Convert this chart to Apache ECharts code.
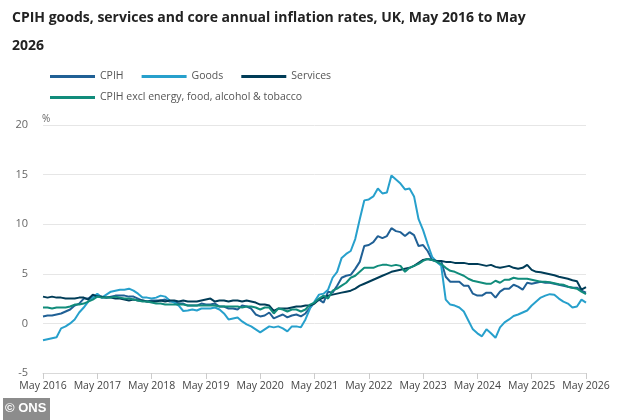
<!DOCTYPE html>
<html>
<head>
<meta charset="utf-8">
<script src="https://cdn.jsdelivr.net/npm/echarts@6/dist/echarts.min.js"></script>
<style>
  html, body { margin: 0; padding: 0; background: #fff; }
  #chart { width: 634px; height: 420px; }
</style>
</head>
<body>
<div id="chart"></div>
<script>
// tick labels, one every 12 months (month index 0 = May 2016)
var tickLabels = ['May 2016', 'May 2017', 'May 2018', 'May 2019', 'May 2020', 'May 2021',
  'May 2022', 'May 2023', 'May 2024', 'May 2025', 'May 2026'];

var seriesNames = ['CPIH', 'Goods', 'Services', 'CPIH excl energy, food, alcohol & tobacco'];

// monthly annual rates, %, May 2016 .. May 2026
var cpih = [
  0.7, 0.8, 0.8, 0.9, 1.0, 1.2, 1.4, 1.8, 2.0, 2.5, 2.5, 2.8,
  2.8, 2.6, 2.6, 2.7, 2.8, 2.8, 2.8, 2.7, 2.7, 2.5, 2.3, 2.2,
  2.3, 2.3, 2.3, 2.4, 2.2, 2.2, 2.0, 2.0, 1.8, 1.8, 1.8, 2.0,
  1.9, 1.9, 2.0, 1.7, 1.7, 1.5, 1.5, 1.4, 1.8, 1.7, 1.5, 0.9,
  0.7, 0.8, 1.1, 0.5, 0.7, 0.9, 0.6, 0.8, 0.9, 0.7, 1.0, 1.6,
  2.1, 2.4, 2.1, 3.2, 3.1, 3.8, 4.6, 4.8, 4.9, 5.5, 6.2, 7.8,
  7.9, 8.2, 8.8, 8.6, 8.8, 9.6, 9.3, 9.2, 8.8, 9.2, 8.9, 7.8,
  7.9, 7.3, 6.4, 6.3, 6.3, 4.7, 4.2, 4.2, 4.2, 3.8, 3.8, 3.0,
  2.8, 2.8, 3.1, 3.1, 2.6, 3.2, 3.5, 3.5, 3.9, 3.7, 3.4, 4.1,
  4.0, 4.1, 4.2, 4.1, 4.1, 4.0, 3.9, 3.8, 3.7, 3.6, 3.6, 3.3,
  3.1
];
var goods = [
  -1.7, -1.6, -1.5, -1.4, -0.5, -0.3, 0.0, 0.4, 1.1, 1.6, 2.2, 2.6,
  3.0, 2.6, 2.9, 3.2, 3.3, 3.4, 3.4, 3.5, 3.3, 3.0, 2.6, 2.6,
  2.5, 2.6, 2.8, 2.7, 2.3, 2.1, 1.8, 1.25, 1.3, 1.4, 1.3, 1.5,
  1.5, 1.5, 1.6, 1.4, 1.0, 0.4, 0.5, 0.6, 0.2, -0.1, -0.3, -0.6,
  -0.9, -0.6, -0.3, -0.4, -0.3, -0.5, -0.8, -0.3, -0.3, -0.4, 0.4, 1.5,
  2.2, 2.9, 3.0, 3.4, 4.6, 5.2, 6.6, 7.0, 7.3, 8.5, 10.5, 12.4,
  12.5, 12.8, 13.6, 13.1, 13.2, 14.9, 14.5, 14.1, 13.5, 13.6, 12.8, 10.5,
  9.4, 8.0, 6.7, 6.2, 5.8, 2.4, 1.9, 1.8, 1.6, 1.2, 0.3, -0.6,
  -1.0, -1.3, -0.6, -1.0, -1.45, -0.4, 0.1, 0.4, 0.75, 0.9, 1.1, 1.3,
  1.8, 2.2, 2.6, 2.8, 2.95, 2.9, 2.5, 2.2, 2.0, 1.6, 1.7, 2.4,
  2.1
];
var services = [
  2.7, 2.6, 2.7, 2.6, 2.6, 2.5, 2.5, 2.5, 2.6, 2.6, 2.4, 2.9,
  2.7, 2.7, 2.6, 2.6, 2.5, 2.5, 2.4, 2.3, 2.4, 2.3, 2.3, 2.2,
  2.2, 2.2, 2.3, 2.2, 2.3, 2.3, 2.2, 2.3, 2.2, 2.2, 2.2, 2.3,
  2.4, 2.5, 2.2, 2.3, 2.3, 2.2, 2.3, 2.3, 2.2, 2.3, 2.2, 2.1,
  1.9, 1.9, 1.8, 1.25, 1.5, 1.5, 1.5, 1.6, 1.7, 1.7, 1.8, 1.8,
  2.0, 2.4, 2.6, 2.8, 2.9, 3.0, 3.1, 3.2, 3.3, 3.5, 3.8, 4.0,
  4.2, 4.4, 4.6, 4.8, 5.0, 5.2, 5.3, 5.4, 5.5, 5.6, 5.8, 6.1,
  6.4, 6.5, 6.4, 6.3, 6.3, 6.2, 6.2, 6.1, 6.1, 6.1, 6.0, 6.0,
  6.0, 5.9, 5.8, 5.9, 5.7, 5.6, 5.7, 5.8, 5.6, 5.5, 5.6, 5.9,
  5.4, 5.2, 5.15, 5.05, 4.95, 4.85, 4.7, 4.6, 4.5, 4.35, 4.25, 3.4,
  3.65
];
var core = [
  1.6, 1.6, 1.5, 1.6, 1.6, 1.6, 1.7, 1.9, 1.9, 2.0, 2.2, 2.4,
  2.7, 2.6, 2.6, 2.6, 2.7, 2.6, 2.5, 2.5, 2.4, 2.3, 2.2, 2.2,
  2.1, 2.0, 2.0, 1.9, 1.9, 1.9, 1.9, 1.9, 1.8, 1.8, 1.8, 1.8,
  1.8, 1.8, 1.8, 1.7, 1.7, 1.7, 1.7, 1.7, 1.6, 1.7, 1.7, 1.6,
  1.4, 1.6, 1.6, 1.0, 1.5, 1.4, 1.2, 1.4, 1.4, 1.2, 1.4, 1.9,
  2.1, 2.5, 2.8, 2.5, 3.3, 3.5, 3.8, 4.1, 4.6, 4.8, 5.2, 5.6,
  5.6, 5.6, 5.8, 5.9, 5.9, 5.8, 5.9, 5.8, 5.2, 5.6, 5.8, 6.0,
  6.3, 6.5, 6.4, 6.2, 6.0, 5.6, 5.3, 5.2, 5.0, 4.8, 4.5, 4.3,
  4.2, 4.1, 4.0, 4.0, 4.3, 4.1, 4.4, 4.4, 4.6, 4.5, 4.5, 4.5,
  4.4, 4.3, 4.2, 4.2, 4.15, 4.05, 3.95, 3.9, 3.7, 3.6, 3.5, 3.2,
  2.95
];

var colors = ['#206095', '#27a0cc', '#003c57', '#118c7b'];

function pairs(arr) {
  return arr.map(function (v, i) { return [i, v]; });
}

var chart = echarts.init(document.getElementById('chart'));

var legendText = { fontSize: 10.5, color: '#555', fontFamily: 'Open Sans' };

var option = {
  animation: false,
  textStyle: { fontFamily: 'Open Sans' },
  title: {
    text: 'CPIH goods, services and core annual inflation rates, UK, May 2016 to May\n2026',
    left: 7,
    top: -1,
    textStyle: {
      fontFamily: 'Open Sans',
      fontSize: 14,
      fontWeight: 'bold',
      color: '#222',
      lineHeight: 28
    }
  },
  legend: [
    {
      data: seriesNames.slice(0, 3),
      left: 50,
      top: 71,
      padding: 0,
      icon: 'rect',
      itemWidth: 45,
      itemHeight: 3,
      itemGap: 18,
      textStyle: legendText
    },
    {
      data: seriesNames.slice(3),
      left: 50,
      top: 92,
      padding: 0,
      icon: 'rect',
      itemWidth: 45,
      itemHeight: 3,
      textStyle: legendText
    }
  ],
  grid: { left: 43, right: 48, top: 125, bottom: 47 },
  xAxis: {
    type: 'value',
    min: 0,
    max: 120,
    interval: 12,
    axisLine: { onZero: false, lineStyle: { color: '#d9d9d9' } },
    axisTick: { show: true, length: 6, lineStyle: { color: '#cccccc' } },
    splitLine: { show: false },
    axisLabel: {
      margin: 8,
      fontSize: 10.5,
      color: '#444',
      showMinLabel: true,
      showMaxLabel: true,
      formatter: function (v) { return tickLabels[Math.round(v / 12)]; }
    }
  },
  yAxis: {
    type: 'value',
    min: -5,
    max: 20,
    interval: 5,
    axisLine: { show: false },
    axisTick: { show: false },
    splitLine: { lineStyle: { color: '#e6e6e6' } },
    axisLabel: { margin: 15, fontSize: 11, color: '#666' }
  },
  graphic: [
    {
      type: 'text', left: 42, top: 114,
      style: { text: '%', fontSize: 10, fill: '#666', fontFamily: 'Open Sans' }
    },
    {
      type: 'rect', left: 3, top: 398,
      shape: { width: 47, height: 22 },
      style: { fill: '#8c8c8c' }
    },
    {
      type: 'text', left: 5, top: 402,
      style: { text: '© ONS', fontSize: 13, fontWeight: 'bold', fill: '#fff', fontFamily: 'Liberation Sans' }
    }
  ],
  series: [
    { name: seriesNames[0], data: pairs(cpih) },
    { name: seriesNames[1], data: pairs(goods) },
    { name: seriesNames[2], data: pairs(services) },
    { name: seriesNames[3], data: pairs(core) }
  ].map(function (s, i) {
    return {
      name: s.name,
      type: 'line',
      data: s.data,
      showSymbol: false,
      color: colors[i],
      lineStyle: { width: 2, color: colors[i] }
    };
  })
};

chart.setOption(option);
</script>
</body>
</html>
